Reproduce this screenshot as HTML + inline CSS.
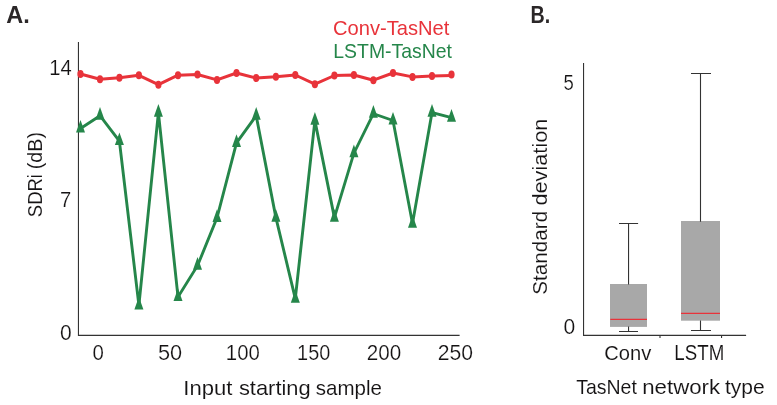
<!DOCTYPE html>
<html lang="en"><head><meta charset="utf-8"><title>TasNet figure</title>
<style>html,body{margin:0;padding:0;background:#fff}svg{display:block}text{font-family:"Liberation Sans",sans-serif}</style></head><body>
<svg width="777" height="405" viewBox="0 0 777 405" fill="#141213">
<rect width="777" height="405" fill="#fff"/>
<text x="6.34" y="23.00" font-size="24" textLength="23.48" lengthAdjust="spacingAndGlyphs" font-weight="bold" fill="#2b2728">A.</text>
<text x="530.50" y="23.00" font-size="23.5" textLength="19.65" lengthAdjust="spacingAndGlyphs" font-weight="bold" fill="#2b2728">B.</text>
<text x="332.99" y="35.45" font-size="21" textLength="116.44" lengthAdjust="spacingAndGlyphs" fill="#E8333A">Conv-TasNet</text>
<text x="333.31" y="58.40" font-size="21" textLength="118.61" lengthAdjust="spacingAndGlyphs" fill="#25864A">LSTM-TasNet</text>
<path d="M78.45 42V335.35H459.6" fill="none" stroke="#333333" stroke-width="1.1"/>
<text x="49.37" y="74.70" font-size="22" textLength="22.42" lengthAdjust="spacingAndGlyphs" stroke="#fff" stroke-width="0.2" paint-order="fill stroke">14</text>
<text x="59.97" y="206.60" font-size="22" textLength="11.25" lengthAdjust="spacingAndGlyphs" stroke="#fff" stroke-width="0.2" paint-order="fill stroke">7</text>
<text x="60.08" y="339.70" font-size="22" textLength="11.73" lengthAdjust="spacingAndGlyphs" stroke="#fff" stroke-width="0.2" paint-order="fill stroke">0</text>
<text x="92.50" y="360.00" font-size="22" textLength="11.38" lengthAdjust="spacingAndGlyphs" stroke="#fff" stroke-width="0.2" paint-order="fill stroke">0</text>
<text x="158.03" y="360.00" font-size="22" textLength="24.20" lengthAdjust="spacingAndGlyphs" stroke="#fff" stroke-width="0.2" paint-order="fill stroke">50</text>
<text x="225.85" y="360.00" font-size="22" textLength="33.93" lengthAdjust="spacingAndGlyphs" stroke="#fff" stroke-width="0.2" paint-order="fill stroke">100</text>
<text x="297.09" y="360.00" font-size="22" textLength="33.18" lengthAdjust="spacingAndGlyphs" stroke="#fff" stroke-width="0.2" paint-order="fill stroke">150</text>
<text x="366.77" y="360.00" font-size="22" textLength="34.43" lengthAdjust="spacingAndGlyphs" stroke="#fff" stroke-width="0.2" paint-order="fill stroke">200</text>
<text x="437.74" y="360.00" font-size="22" textLength="35.27" lengthAdjust="spacingAndGlyphs" stroke="#fff" stroke-width="0.2" paint-order="fill stroke">250</text>
<text x="183.27" y="394.65" font-size="21" textLength="49.09" lengthAdjust="spacingAndGlyphs" stroke="#fff" stroke-width="0.1" paint-order="fill stroke">Input</text>
<text x="238.91" y="394.65" font-size="21" textLength="71.80" lengthAdjust="spacingAndGlyphs" stroke="#fff" stroke-width="0.1" paint-order="fill stroke">starting</text>
<text x="315.75" y="394.65" font-size="21" textLength="66.15" lengthAdjust="spacingAndGlyphs" stroke="#fff" stroke-width="0.1" paint-order="fill stroke">sample</text>
<text x="42.00" y="217.13" font-size="21" textLength="43.08" lengthAdjust="spacingAndGlyphs" stroke="#fff" stroke-width="0.1" paint-order="fill stroke" transform="rotate(-90 42.00 217.13)">SDRi</text>
<text x="42.00" y="169.23" font-size="21" textLength="37.36" lengthAdjust="spacingAndGlyphs" stroke="#fff" stroke-width="0.1" paint-order="fill stroke" transform="rotate(-90 42.00 169.23)">(dB)</text>
<polyline points="80.5,128.5 100.0,115.7 119.4,141.0 138.9,305.3 158.4,112.7 178.0,297.0 197.5,265.7 217.0,217.9 236.5,142.9 256.2,115.7 275.9,217.6 295.3,298.6 314.9,120.6 334.4,217.6 353.9,153.2 373.4,113.7 393.0,120.5 412.5,223.6 432.0,112.6 451.5,117.7" fill="none" stroke="#25864A" stroke-width="2.9" stroke-linejoin="miter"/>
<path d="M80.5 119.9L85.0 132.6H76.0Z" fill="#25864A"/>
<path d="M100.0 107.1L104.5 119.8H95.5Z" fill="#25864A"/>
<path d="M119.4 132.4L123.9 145.1H114.9Z" fill="#25864A"/>
<path d="M138.9 296.7L143.4 309.4H134.4Z" fill="#25864A"/>
<path d="M158.4 104.1L162.9 116.8H153.9Z" fill="#25864A"/>
<path d="M178.0 288.4L182.5 301.1H173.5Z" fill="#25864A"/>
<path d="M197.5 257.1L202.0 269.8H193.0Z" fill="#25864A"/>
<path d="M217.0 209.3L221.5 222.0H212.5Z" fill="#25864A"/>
<path d="M236.5 134.3L241.0 147.0H232.0Z" fill="#25864A"/>
<path d="M256.2 107.1L260.7 119.8H251.7Z" fill="#25864A"/>
<path d="M275.9 209.0L280.4 221.7H271.4Z" fill="#25864A"/>
<path d="M295.3 290.0L299.8 302.7H290.8Z" fill="#25864A"/>
<path d="M314.9 112.0L319.4 124.7H310.4Z" fill="#25864A"/>
<path d="M334.4 209.0L338.9 221.7H329.9Z" fill="#25864A"/>
<path d="M353.9 144.6L358.4 157.3H349.4Z" fill="#25864A"/>
<path d="M373.4 105.1L377.9 117.8H368.9Z" fill="#25864A"/>
<path d="M393.0 111.9L397.5 124.6H388.5Z" fill="#25864A"/>
<path d="M412.5 215.0L417.0 227.7H408.0Z" fill="#25864A"/>
<path d="M432.0 104.0L436.5 116.7H427.5Z" fill="#25864A"/>
<path d="M451.5 109.1L456.0 121.8H447.0Z" fill="#25864A"/>
<polyline points="80.5,74.0 100.0,79.2 119.4,77.8 138.9,75.3 158.4,84.7 178.0,75.2 197.5,74.5 217.0,79.9 236.5,73.0 256.2,78.1 275.9,76.8 295.3,75.0 314.9,84.2 334.4,75.5 353.9,75.0 373.4,80.2 393.0,73.0 412.5,76.9 432.0,76.0 451.5,75.4" fill="none" stroke="#E8333A" stroke-width="3.0" stroke-linejoin="round"/>
<ellipse cx="80.5" cy="74.0" rx="3.1" ry="4.0" fill="#E8333A"/>
<ellipse cx="100.0" cy="79.2" rx="3.1" ry="4.0" fill="#E8333A"/>
<ellipse cx="119.4" cy="77.8" rx="3.1" ry="4.0" fill="#E8333A"/>
<ellipse cx="138.9" cy="75.3" rx="3.1" ry="4.0" fill="#E8333A"/>
<ellipse cx="158.4" cy="84.7" rx="3.1" ry="4.0" fill="#E8333A"/>
<ellipse cx="178.0" cy="75.2" rx="3.1" ry="4.0" fill="#E8333A"/>
<ellipse cx="197.5" cy="74.5" rx="3.1" ry="4.0" fill="#E8333A"/>
<ellipse cx="217.0" cy="79.9" rx="3.1" ry="4.0" fill="#E8333A"/>
<ellipse cx="236.5" cy="73.0" rx="3.1" ry="4.0" fill="#E8333A"/>
<ellipse cx="256.2" cy="78.1" rx="3.1" ry="4.0" fill="#E8333A"/>
<ellipse cx="275.9" cy="76.8" rx="3.1" ry="4.0" fill="#E8333A"/>
<ellipse cx="295.3" cy="75.0" rx="3.1" ry="4.0" fill="#E8333A"/>
<ellipse cx="314.9" cy="84.2" rx="3.1" ry="4.0" fill="#E8333A"/>
<ellipse cx="334.4" cy="75.5" rx="3.1" ry="4.0" fill="#E8333A"/>
<ellipse cx="353.9" cy="75.0" rx="3.1" ry="4.0" fill="#E8333A"/>
<ellipse cx="373.4" cy="80.2" rx="3.1" ry="4.0" fill="#E8333A"/>
<ellipse cx="393.0" cy="73.0" rx="3.1" ry="4.0" fill="#E8333A"/>
<ellipse cx="412.5" cy="76.9" rx="3.1" ry="4.0" fill="#E8333A"/>
<ellipse cx="432.0" cy="76.0" rx="3.1" ry="4.0" fill="#E8333A"/>
<ellipse cx="451.5" cy="74.5" rx="3.1" ry="4.0" fill="#E8333A"/>
<rect x="610" y="284" width="37" height="42.9" fill="#A8A8A8"/>
<rect x="681" y="221" width="39" height="99.7" fill="#A8A8A8"/>
<path d="M628.55 223.5V284.5M619 223.5H638.1M628.55 326.5V331.5M619 331.5H638M700.5 73.5V221.8M691 73.5H711M700.5 320.5V330.5M691 330.5H711" fill="none" stroke="#333333" stroke-width="1.1"/>
<path d="M610.3 319.4H647M681 313.45H720" fill="none" stroke="#E8333A" stroke-width="1.25"/>
<path d="M583.55 63V335.35H746.1M660 335.35V338M721.55 335.35V338" fill="none" stroke="#333333" stroke-width="1.1"/>
<text x="563.56" y="90.00" font-size="22" textLength="10.30" lengthAdjust="spacingAndGlyphs" stroke="#fff" stroke-width="0.2" paint-order="fill stroke">5</text>
<text x="563.38" y="333.60" font-size="22" textLength="11.73" lengthAdjust="spacingAndGlyphs" stroke="#fff" stroke-width="0.2" paint-order="fill stroke">0</text>
<text x="604.19" y="359.60" font-size="21" textLength="47.08" lengthAdjust="spacingAndGlyphs" stroke="#fff" stroke-width="0.1" paint-order="fill stroke">Conv</text>
<text x="674.37" y="359.60" font-size="21.7" textLength="49.87" lengthAdjust="spacingAndGlyphs" stroke="#fff" stroke-width="0.1" paint-order="fill stroke">LSTM</text>
<text x="576.17" y="394.20" font-size="21" textLength="60.67" lengthAdjust="spacingAndGlyphs" stroke="#fff" stroke-width="0.1" paint-order="fill stroke">TasNet</text>
<text x="642.23" y="394.20" font-size="21" textLength="77.94" lengthAdjust="spacingAndGlyphs" stroke="#fff" stroke-width="0.1" paint-order="fill stroke">network</text>
<text x="724.88" y="394.20" font-size="21" textLength="39.74" lengthAdjust="spacingAndGlyphs" stroke="#fff" stroke-width="0.1" paint-order="fill stroke">type</text>
<text x="546.80" y="294.73" font-size="21" textLength="83.97" lengthAdjust="spacingAndGlyphs" stroke="#fff" stroke-width="0.1" paint-order="fill stroke" transform="rotate(-90 546.80 294.73)">Standard</text>
<text x="546.80" y="205.61" font-size="21" textLength="87.00" lengthAdjust="spacingAndGlyphs" stroke="#fff" stroke-width="0.1" paint-order="fill stroke" transform="rotate(-90 546.80 205.61)">deviation</text>
</svg></body></html>
